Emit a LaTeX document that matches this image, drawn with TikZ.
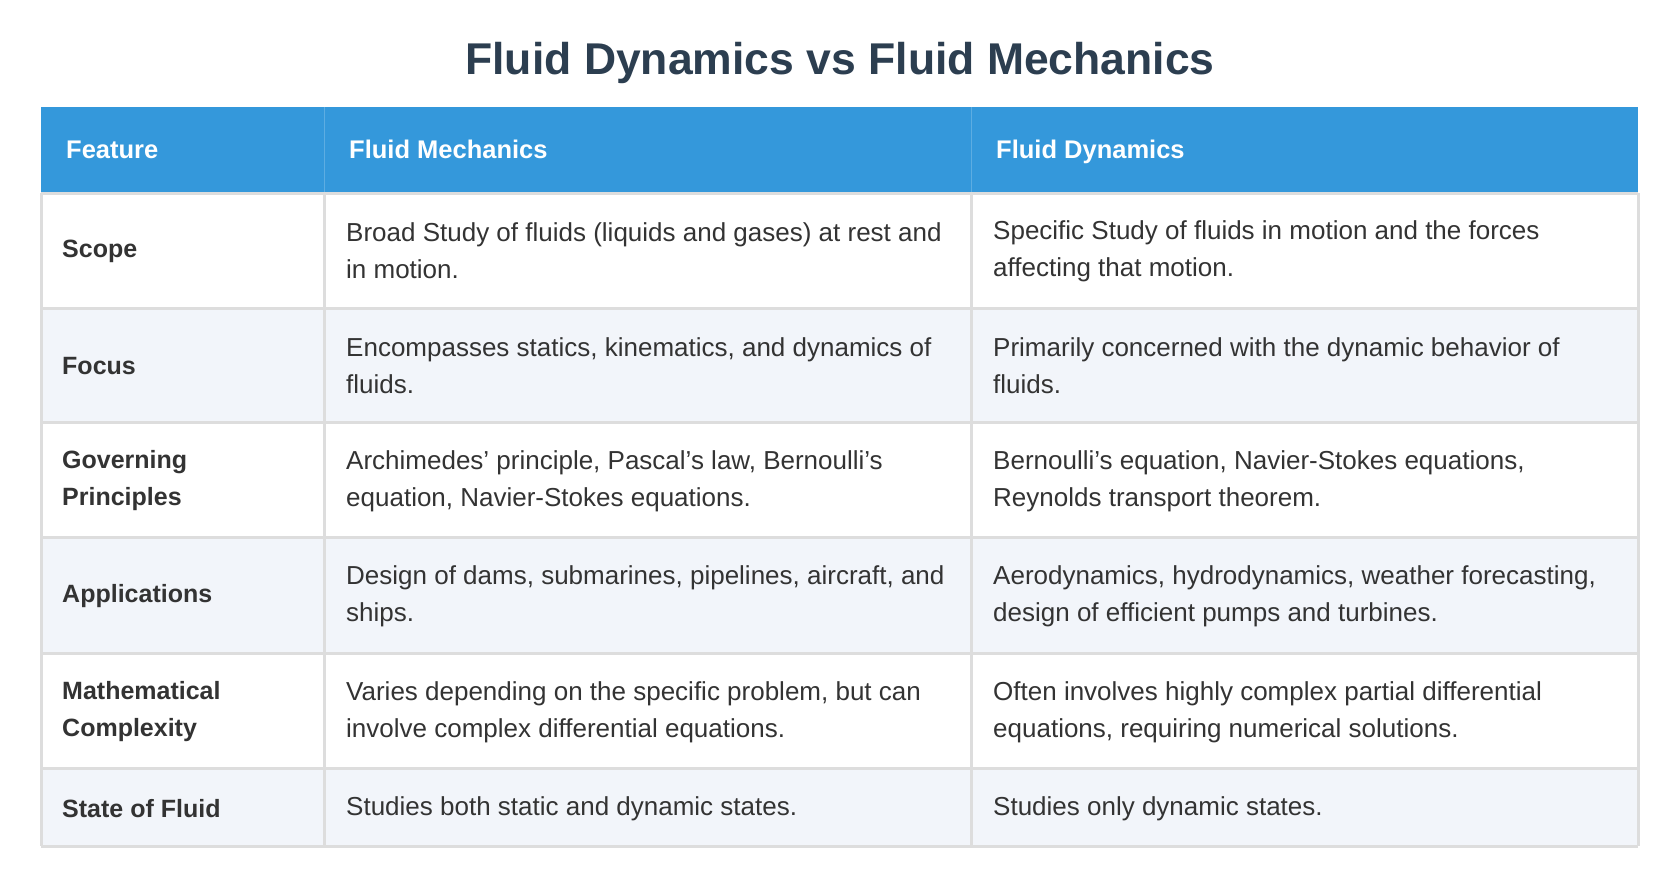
\documentclass[tikz,border=0pt]{standalone}
\usepackage{fontspec}
\setmainfont{Liberation Sans}
\newcommand\aq{\char"27\relax}
\definecolor{hdr}{HTML}{3498DB}
\definecolor{ttl}{HTML}{2C3E50}
\definecolor{alt}{HTML}{F2F5FA}
\definecolor{grid}{HTML}{DDDDDD}
\definecolor{txt}{HTML}{333333}
\begin{document}
\begin{tikzpicture}[x=1pt,y=-1pt,
  cell/.style={anchor=west,align=left,font=\fontsize{26}{37}\selectfont,text=txt,inner sep=0pt},
  lab/.style={cell,font=\fontsize{25}{37}\selectfont\bfseries},
  head/.style={anchor=base west,inner sep=0pt,font=\fontsize{25.5}{30}\selectfont\bfseries,text=white}]
\useasboundingbox (0,0) rectangle (1680,886);
\node[font=\fontsize{44.5}{52}\selectfont\bfseries,text=ttl] (title) at (840,63) {Fluid Dynamics vs Fluid Mechanics};
\fill[hdr] (41,107) rectangle (1638,193);
\fill[white] (41,193) rectangle (1638,308);
\fill[alt] (41,308) rectangle (1638,422);
\fill[white] (41,422) rectangle (1638,537);
\fill[alt] (41,537) rectangle (1638,653);
\fill[white] (41,653) rectangle (1638,768);
\fill[alt] (41,768) rectangle (1638,846);
\draw[hdr!80!white,line width=1pt] (324,107) -- (324,193) (971,107) -- (971,193);
\foreach \y in {193,308,422,537,653,768,846} \draw[grid,line width=3pt] (41,\y) -- (1638,\y);
\foreach \x in {41,324,971,1638} \draw[grid,line width=3pt] (\x,193) -- (\x,846);
\node[head] (h1) at (66,158) {Feature};
\node[head] (h2) at (349,158) {Fluid Mechanics};
\node[head] (h3) at (996,158) {Fluid Dynamics};
\node[lab] (l1) at (62,251) {Scope};
\node[lab] (l2) at (62,366) {Focus};
\node[lab] (l3) at (62,481) {Governing\\Principles};
\node[lab] (l4) at (62,596) {Applications};
\node[lab] (l5) at (62,712) {Mathematical\\Complexity};
\node[lab] (l6) at (62,809) {State of Fluid};
\node[cell] (a1) at (346,251) {Broad Study of fluids (liquids and gases) at rest and\\in motion.};
\node[cell] (a2) at (346,366) {Encompasses statics, kinematics, and dynamics of\\fluids.};
\node[cell] (a3) at (346,481) {Archimedes\aq{} principle, Pascal\aq{}s law, Bernoulli\aq{}s\\equation, Navier-Stokes equations.};
\node[cell] (a4) at (346,596) {Design of dams, submarines, pipelines, aircraft, and\\ships.};
\node[cell] (a5) at (346,712) {Varies depending on the specific problem, but can\\involve complex differential equations.};
\node[cell] (a6) at (346,809) {Studies both static and dynamic states.};
\node[cell] (b1) at (993,251) {Specific Study of fluids in motion and the forces\\affecting that motion.};
\node[cell] (b2) at (993,366) {Primarily concerned with the dynamic behavior of\\fluids.};
\node[cell] (b3) at (993,481) {Bernoulli\aq{}s equation, Navier-Stokes equations,\\Reynolds transport theorem.};
\node[cell] (b4) at (993,596) {Aerodynamics, hydrodynamics, weather forecasting,\\design of efficient pumps and turbines.};
\node[cell] (b5) at (993,712) {Often involves highly complex partial differential\\equations, requiring numerical solutions.};
\node[cell] (b6) at (993,809) {Studies only dynamic states.};
\end{tikzpicture}
\end{document}
